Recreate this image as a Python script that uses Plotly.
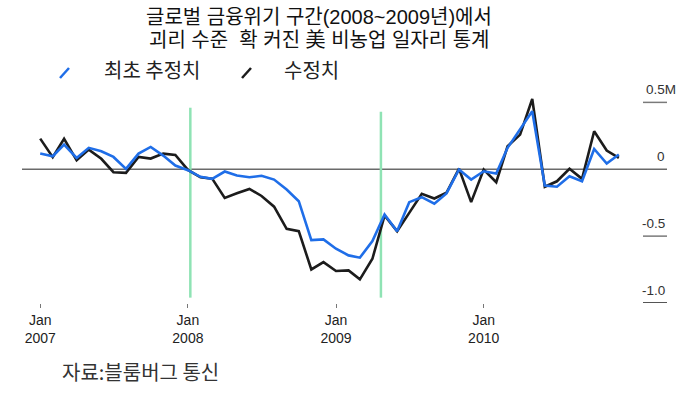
import pandas as pd
import plotly.graph_objects as go

# ---------------- data ----------------
months = pd.date_range("2007-01-01", "2010-12-01", freq="MS")

# initial estimate (thousands of jobs)
initial_k = [117, 97, 184, 85, 160, 134, 92, 3, 117, 167, 102, 28,
             -7, -57, -72, -17, -47, -60, -49, -77, -151, -239, -530, -524,
             -594, -644, -661, -537, -338, -463, -246, -209, -258, -181, -2, -77,
             -15, -32, 160, 296, 433, -122, -131, -52, -90, 152, 43, 110]

# revised figures (thousands of jobs)
revised_k = [229, 90, 227, 67, 147, 78, -22, -27, 92, 80, 117, 107,
             -5, -60, -70, -214, -180, -147, -200, -280, -445, -463, -749, -694,
             -761, -756, -823, -669, -346, -463, -326, -184, -219, -176, 5, -246,
             -2, -97, 172, 259, 525, -131, -90, 3, -72, 284, 140, 85]

series_names = ["최초 추정치", "수정치"]
series_colors = ["#1f6ee8", "#1c1c1c"]

crisis_marks = ["2008-01-07", "2009-04-22"]
crisis_span = [[-0.96, 0.46], [-0.96, 0.43]]

ytick_vals = [0.5, 0, -0.5, -1.0]
ytick_text = ["0.5M", "0", "-0.5", "-1.0"]
ytick_colors = ["#7a7a7a", "#6a6a6a", "#7a7a7a", "#1c1c1c"]
ytick_suffix_shift = [11, 0, 0, 0]

xtick_vals = ["2007-01-01", "2008-01-01", "2009-01-01", "2010-01-01"]
xtick_text = ["Jan<br>2007", "Jan<br>2008", "Jan<br>2009", "Jan<br>2010"]

title_lines = ["글로벌 금융위기 구간(2008~2009년)에서", "괴리 수준  확 커진 美 비농업 일자리 통계"]
source_text = "자료:블룸버그 통신"

# ---------------- layout helpers ----------------
W, H = 700, 394
ML, MR, MT, MB = 22, 33, 89, 91
PW, PH = W - ML - MR, H - MT - MB


def px(x):
    return (x - ML) / PW


def py(y):
    return (H - MB - y) / PH


KR = "Noto Sans CJK KR"
TITLE_FONT = "Liberation Sans, Noto Sans CJK KR, sans-serif"
LAT = "Liberation Sans, Arial, sans-serif"

fig = go.Figure()

initial_m = [v / 1000 for v in initial_k]
revised_m = [v / 1000 for v in revised_k]

fig.add_trace(go.Scatter(x=months, y=revised_m, mode="lines", name=series_names[1],
                         line=dict(color=series_colors[1], width=2.6), showlegend=False))
fig.add_trace(go.Scatter(x=months, y=initial_m, mode="lines", name=series_names[0],
                         line=dict(color=series_colors[0], width=2.6), showlegend=False))

shapes = []
# crisis period markers
for d, (y0, y1) in zip(crisis_marks, crisis_span):
    shapes.append(dict(type="line", xref="x", yref="y", x0=d, x1=d, y0=y0, y1=y1,
                       line=dict(color="#8fe3b4", width=2.5), layer="below"))
# zero line
shapes.append(dict(type="line", xref="paper", yref="y", x0=0, x1=1, y0=0, y1=0,
                   line=dict(color="#6a6a6a", width=1.5), layer="below"))
# right-side tick marks
for v, c in zip(ytick_vals, ytick_colors):
    if v == 0:
        continue
    shapes.append(dict(type="line", xref="paper", yref="y", x0=px(643), x1=1, y0=v, y1=v,
                       line=dict(color=c, width=1.5)))
# legend glyphs (slashes)
for (x0, y0, x1, y1), c in zip([(60, 78, 69, 68), (242, 78, 251, 68)], series_colors):
    shapes.append(dict(type="line", xref="paper", yref="paper",
                       x0=px(x0), y0=py(y0), x1=px(x1), y1=py(y1),
                       line=dict(color=c, width=2.5)))

annotations = []
for v, t, s in zip(ytick_vals, ytick_text, ytick_suffix_shift):
    annotations.append(dict(x=1, xref="paper", y=v, yref="y", text=t, showarrow=False,
                            xanchor="right", yanchor="middle", yshift=13, xshift=s,
                            font=dict(family=LAT, size=13.5, color="#333333")))
# title (two lines)
for i, line in enumerate(title_lines):
    annotations.append(dict(x=px(319), y=py(17 + 23 * i), xref="paper", yref="paper",
                            text=line, showarrow=False, xanchor="center", yanchor="middle",
                            font=dict(family=TITLE_FONT, size=20, color="#111111")))
# legend text
for x0, name in zip([102, 282], series_names):
    annotations.append(dict(x=px(x0), y=py(69.5), xref="paper", yref="paper", text=name,
                            showarrow=False, xanchor="left", yanchor="middle",
                            font=dict(family=KR, size=20, color="#222222")))
# source
annotations.append(dict(x=px(60), y=py(371), xref="paper", yref="paper", text=source_text,
                        showarrow=False, xanchor="left", yanchor="middle",
                        font=dict(family=KR, size=20, color="#333333")))

fig.update_layout(
    width=W, height=H,
    margin=dict(l=ML, r=MR, t=MT, b=MB),
    paper_bgcolor="white", plot_bgcolor="white",
    shapes=shapes, annotations=annotations,
    showlegend=False,
    xaxis=dict(type="date", range=["2006-11-17", "2011-03-30"],
               tickvals=xtick_vals, ticktext=xtick_text,
               ticks="outside", ticklen=4, tickwidth=1, tickcolor="#777777",
               showgrid=False, zeroline=False, showline=False,
               tickfont=dict(family=LAT, size=14, color="#222222")),
    yaxis=dict(range=[-1.0, 0.6], visible=False, showgrid=False, zeroline=False),
)

fig.write_html("out.html", config={"displayModeBar": False},
               post_script="document.body.style.margin='0';")
